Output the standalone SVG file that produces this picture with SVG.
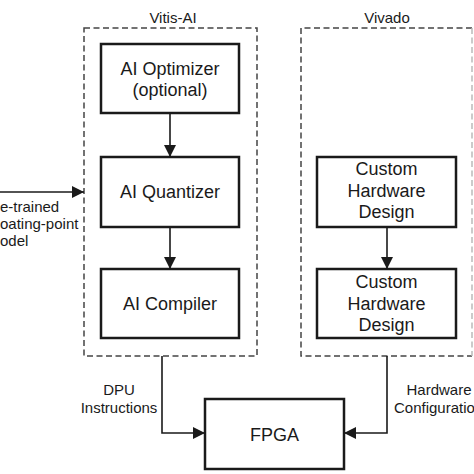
<svg xmlns="http://www.w3.org/2000/svg" width="474" height="474" viewBox="0 0 474 474">
<style>
text{font-family:"Liberation Sans",Arial,sans-serif;fill:#1a1a1a}
.t15{font-size:15px}
.t18{font-size:18px}
.c{text-anchor:middle}
.box{fill:#fff;stroke:#1a1a1a;stroke-width:2.5}
.grp{fill:none;stroke:#444;stroke-width:1.5;stroke-dasharray:6 3.5}
.ln{fill:none;stroke:#1a1a1a;stroke-width:1.6}
</style>
<defs>
<marker id="ah" viewBox="0 0 12 12" refX="12" refY="6" markerWidth="12" markerHeight="12" markerUnits="userSpaceOnUse" orient="auto">
<path d="M0,0 L12,6 L0,12 Z" fill="#1a1a1a"/>
</marker>
</defs>
<rect width="474" height="474" fill="#fff"/>
<g id="vitis-ai">
<rect class="grp" x="84" y="28" width="173" height="328"/>
<text class="t15 c" x="173" y="23">Vitis-AI</text>
</g>
<g id="vivado">
<path class="grp" d="M472,28 L301,28 L301,356 L472,356"/>
<line x1="472" y1="28" x2="472" y2="356" style="fill:none;stroke:#bbb;stroke-width:1.5;stroke-dasharray:6 3.5"/>
<text class="t15 c" x="387" y="23">Vivado</text>
</g>
<g id="ai-optimizer">
<rect class="box" x="101" y="44" width="138" height="69"/>
<text class="t18 c" x="170" y="74.5">AI Optimizer</text>
<text class="t18 c" x="170" y="96">(optional)</text>
</g>
<g id="ai-quantizer">
<rect class="box" x="101" y="157" width="138" height="70"/>
<text class="t18 c" x="170" y="198">AI Quantizer</text>
</g>
<g id="ai-compiler">
<rect class="box" x="101" y="269" width="138" height="69"/>
<text class="t18 c" x="170" y="309.5">AI Compiler</text>
</g>
<g id="custom-hw-1">
<rect class="box" x="317" y="157" width="139" height="70"/>
<text class="t18 c" x="386.5" y="175">Custom</text>
<text class="t18 c" x="386.5" y="196.5">Hardware</text>
<text class="t18 c" x="386.5" y="218">Design</text>
</g>
<g id="custom-hw-2">
<rect class="box" x="317" y="269" width="139" height="69"/>
<text class="t18 c" x="386.5" y="288">Custom</text>
<text class="t18 c" x="386.5" y="309.5">Hardware</text>
<text class="t18 c" x="386.5" y="331">Design</text>
</g>
<g id="fpga">
<rect class="box" x="205" y="399" width="139" height="70"/>
<text class="t18 c" x="274.5" y="440.5">FPGA</text>
</g>
<g id="input-label">
<text class="t15" x="0" y="212">e-trained</text>
<text class="t15" x="0" y="229">oating-point</text>
<text class="t15" x="0" y="246">odel</text>
</g>
<g id="connectors">
<line class="ln" x1="170" y1="113" x2="170" y2="157" marker-end="url(#ah)"/>
<line class="ln" x1="170" y1="227" x2="170" y2="269" marker-end="url(#ah)"/>
<line class="ln" x1="387" y1="227" x2="387" y2="269" marker-end="url(#ah)"/>
<line class="ln" x1="0" y1="192" x2="84" y2="192" marker-end="url(#ah)"/>
<path class="ln" d="M162,356 L162,433 L205,433" marker-end="url(#ah)"/>
<path class="ln" d="M387,356 L387,433 L344,433" marker-end="url(#ah)"/>
<text class="t15 c" x="119" y="395">DPU</text>
<text class="t15 c" x="119" y="413">Instructions</text>
<text class="t15 c" x="439" y="395">Hardware</text>
<text class="t15" x="394" y="413">Configuratio</text>
</g>
</svg>
